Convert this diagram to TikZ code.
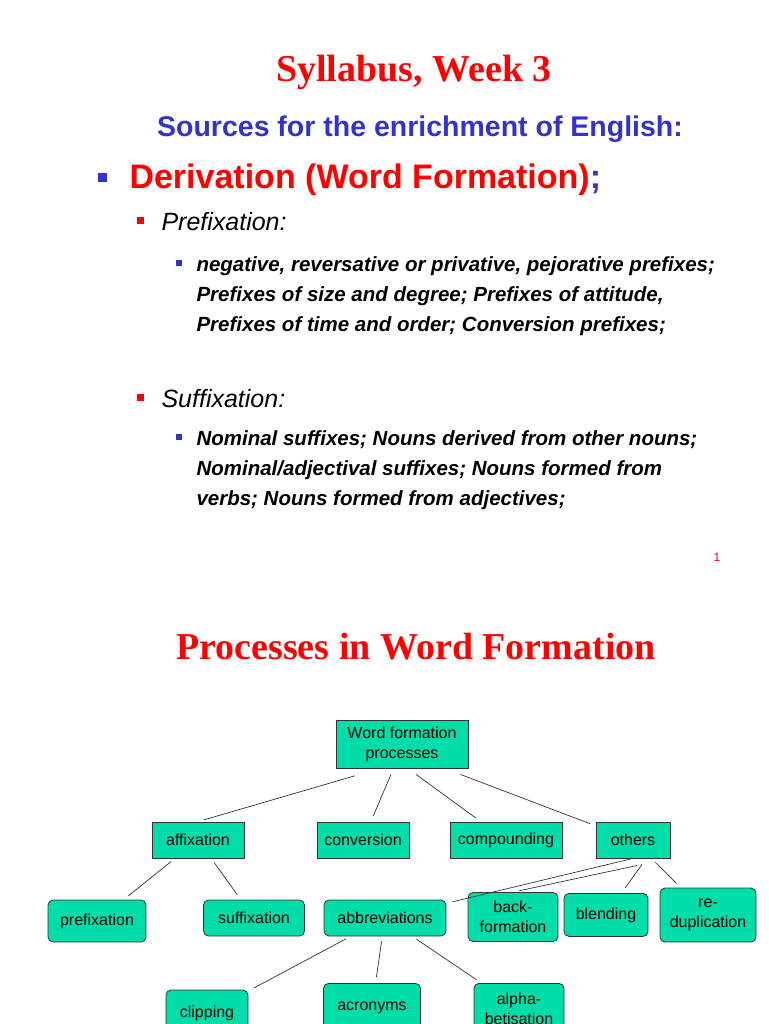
\documentclass[tikz,border=0pt]{standalone}
\usepackage{fontspec}
\setmainfont{Liberation Sans}
\newfontfamily\serif{Liberation Serif}
\begin{document}
\begin{tikzpicture}[x=1pt,y=-1pt,
  box/.style={draw=black!80,fill=boxgreen,line width=0.8pt,inner sep=2pt,font=\fontsize{16}{20}\selectfont,align=center},
  rbox/.style={box,rounded corners=5pt},
  link/.style={draw=black!80,line width=0.7pt,shorten <=5pt,shorten >=6pt},
  ln/.style={anchor=base west,font=\fontsize{20.5}{24}\selectfont\bfseries\itshape}]
\definecolor{boxgreen}{HTML}{00DDA8}
\definecolor{tred}{HTML}{FF0000}
\definecolor{tblue}{HTML}{3333CC}
\useasboundingbox (0,0) rectangle (768,1024);
\node[text=tred,font=\serif\fontsize{38}{40}\selectfont\bfseries] (t1) at (414,72) {Syllabus, Week 3};
\node[text=tblue,font=\fontsize{28.5}{32}\selectfont\bfseries] (t2) at (420,129) {Sources for the enrichment of English:};
\fill[tblue] (98,173) rectangle +(9,9);
\node[anchor=base west,text=tred,font=\fontsize{34}{38}\selectfont\bfseries] (d) at (126,189) {Derivation (Word Formation)\textcolor{tblue}{;}};
\fill[tred] (137,217) rectangle +(7,7);
\node[anchor=base west,font=\fontsize{25}{28}\selectfont\itshape] (p) at (158,230) {Prefixation:};
\fill[tblue] (176,260) rectangle +(6,6);
\node[ln] at (193,271) {negative, reversative or privative, pejorative prefixes;};
\node[ln] at (193,301) {Prefixes of size and degree; Prefixes of attitude,};
\node[ln] at (193,331) {Prefixes of time and order; Conversion prefixes;};
\fill[tred] (137,394) rectangle +(7,7);
\node[anchor=base west,font=\fontsize{25}{28}\selectfont\itshape] (s) at (158,407) {Suffixation:};
\fill[tblue] (176,434) rectangle +(6,6);
\node[ln] at (193,445) {Nominal suffixes; Nouns derived from other nouns;};
\node[ln] at (193,475) {Nominal/adjectival suffixes; Nouns formed from};
\node[ln] at (193,505) {verbs; Nouns formed from adjectives;};
\node[text=tred,font=\fontsize{12}{13}\selectfont] (pg) at (717,557) {1};
\node[text=tred,font=\serif\fontsize{38}{40}\selectfont\bfseries] (t3) at (416,647) {Processes in Word Formation};
% tree
\node[box,minimum width=132pt,minimum height=48pt] (root) at (402,744) {Word formation\\processes};
\node[box,minimum width=92pt,minimum height=36pt] (aff) at (198,840) {affixation};
\node[box,minimum width=92pt,minimum height=36pt] (conv) at (363,840) {conversion};
\node[box,minimum width=112pt,minimum height=36pt] (comp) at (506,840) {compounding};
\node[box,minimum width=74pt,minimum height=36pt] (oth) at (633,840) {others};
\node[rbox,minimum width=98pt,minimum height=42pt] (pre) at (97,921) {prefixation};
\node[rbox,minimum width=101pt,minimum height=36pt] (suf) at (254,918) {suffixation};
\node[rbox,minimum width=122pt,minimum height=36pt] (abb) at (385,918) {abbreviations};
\node[rbox,minimum width=90pt,minimum height=49pt] (back) at (513,917) {back-\\formation};
\node[rbox,minimum width=84pt,minimum height=43pt,anchor=north] (blend) at (606,893) {blending};
\node[rbox,minimum width=96pt,minimum height=54pt] (redup) at (708,915) {re-\\duplication};
\node[rbox,minimum width=82pt,minimum height=46pt] (clip) at (207,1013) {clipping};
\node[rbox,minimum width=97pt,minimum height=48pt,anchor=north] (acr) at (372,983) {acronyms};
\node[rbox,minimum width=90pt,minimum height=50pt,anchor=north] (alpha) at (519,983) {alpha-\\betisation};
\draw[link] (root.south west)++(24,6) coordinate (r1) -- (aff.north);
\draw[link,shorten <=0pt] (root.south) ++(-11,6) coordinate (r2) -- (conv);
\draw[link,shorten <=0pt] (root.south) ++(14,6) coordinate (r3) -- (comp);
\draw[link,shorten <=0pt] (root.south east) ++(-8,6) coordinate (r4) -- (oth);
\draw[link] (aff) -- (pre);
\draw[link] (aff) -- (suf);
\draw[link,shorten <=0pt] (oth.south) -- (abb);
\draw[link] (oth.south) ++(9,6) coordinate (o1) -- (back.north);
\draw[link,shorten <=0pt] (o1) -- (blend);
\draw[link] (oth) -- (redup);
\draw[link] (abb) -- (clip);
\draw[link] (abb) -- (acr);
\draw[link] (abb) -- (alpha);
\end{tikzpicture}
\end{document}
